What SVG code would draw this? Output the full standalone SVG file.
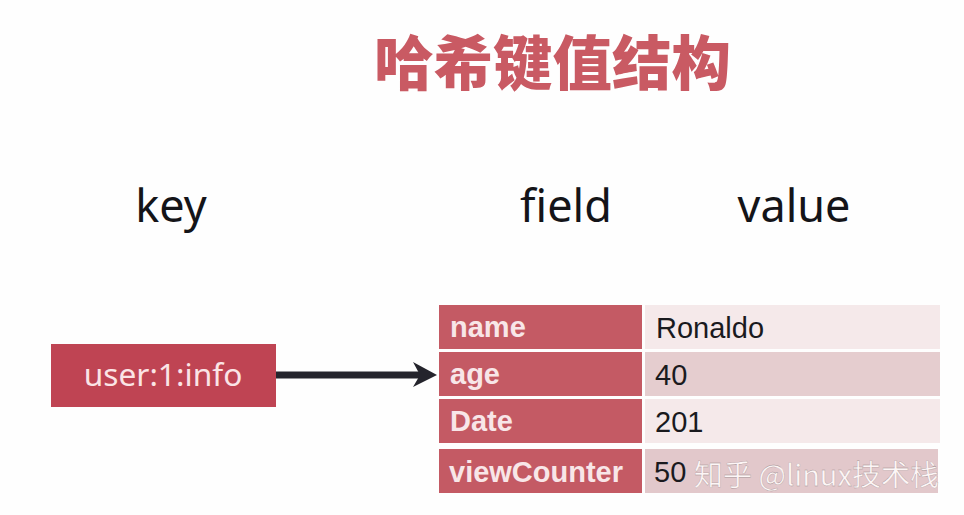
<svg xmlns="http://www.w3.org/2000/svg" width="964" height="515" viewBox="0 0 964 515">
<style>
.h{font-family:"Noto Sans","Open Sans","DejaVu Sans",sans-serif;font-size:45px;fill:#141418}
.f{fill:#c45a64}.l{fill:#f5e9ea}.d{fill:#e5cdcf}.d2{fill:#e2c8cb}
.ft{font-family:"Liberation Sans",Arial,sans-serif;font-size:29px;font-weight:700;fill:#f8e6e8}
.vt{font-family:"Liberation Sans",Arial,sans-serif;font-size:29px;fill:#1a1a1e}
</style>
<defs><filter id="b" x="-5%" y="-20%" width="110%" height="140%"><feGaussianBlur stdDeviation="0.5"/></filter></defs>
<rect width="964" height="515" fill="#fefefe"/>
<g id="title"><text x="552.5" y="85" text-anchor="middle" font-family="'Noto Sans CJK SC',sans-serif" font-size="59.5" font-weight="900" fill="#c95a64" filter="url(#b)">哈希键值结构</text></g>
<g id="header-key"><text class="h" x="171" y="222" text-anchor="middle">key</text></g>
<g id="header-field"><text class="h" x="566" y="222" text-anchor="middle">field</text></g>
<g id="header-value"><text class="h" x="794" y="222" text-anchor="middle">value</text></g>
<g id="key-node"><rect x="51" y="344" width="225" height="63" fill="#bf4453"/><text x="163" y="386" text-anchor="middle" font-family="'Noto Sans','Open Sans',sans-serif" font-size="31.7" fill="#fbe4e6">user:1:info</text></g>
<g id="row-name"><rect class="f" x="439" y="305" width="203" height="44"/><rect class="l" x="645" y="305" width="295" height="44"/><text class="ft" x="450" y="337">name</text><text class="vt" x="656" y="338">Ronaldo</text></g>
<g id="row-age"><rect class="f" x="439" y="352" width="203" height="44"/><rect class="d" x="645" y="352" width="295" height="44"/><text class="ft" x="450" y="384">age</text><text class="vt" x="655" y="385">40</text></g>
<g id="row-date"><rect class="f" x="439" y="399" width="203" height="44"/><rect class="l" x="645" y="399" width="295" height="44"/><text class="ft" x="450" y="431">Date</text><text class="vt" x="655" y="432">201</text></g>
<g id="row-viewcounter"><rect class="f" x="439" y="449" width="203" height="44"/><rect class="d2" x="645" y="449" width="293" height="44"/><text class="ft" x="449" y="482">viewCounter</text><text class="vt" x="654" y="482">50</text></g>
<g id="connectors"><line x1="276" y1="375" x2="425" y2="375" stroke="#24242c" stroke-width="7"/><path d="M413 362 L437 375 L413 387 L420 375 Z" fill="#24242c"/></g>
<g id="watermark"><text x="694" y="486" font-family="'Noto Sans CJK SC',sans-serif" font-size="29" fill="#fdf6f6" stroke="#a08c8e" stroke-width="0.3">知乎 @linux技术栈</text></g>
</svg>
